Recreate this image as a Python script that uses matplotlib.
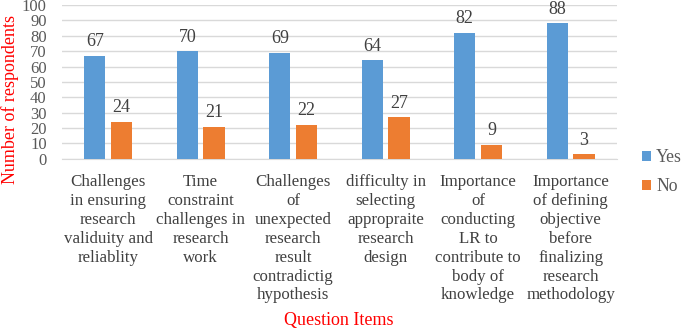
import numpy as np
import matplotlib
matplotlib.use("Agg")
import matplotlib.pyplot as plt

# ------------------------------------------
# Data
# ------------------------------------------
categories = [
    "Challenges\nin ensuring\nresearch\nvaliduity and\nreliablity",
    "Time\nconstraint\nchallenges in\nresearch\nwork",
    "Challenges\nof\nunexpected\nresearch\nresult\ncontradictig\nhypothesis",
    "difficulty in\nselecting\nappropraite\nresearch\ndesign",
    "Importance\nof\nconducting\nLR to\ncontribute to\nbody of\nknowledge",
    "Importance\nof defining\nobjective\nbefore\nfinalizing\nresearch\nmethodology",
]
yes_values = [67, 70, 69, 64, 82, 88]
no_values = [24, 21, 22, 27, 9, 3]

plt.rcParams["font.family"] = ["Liberation Serif", "DejaVu Serif"]

fig = plt.figure(figsize=(6.85, 3.31), dpi=100)
ax = fig.add_axes([0.0905, 0.52, 0.81, 0.465])

x = np.arange(len(categories))
w = 0.23
off = 0.145

b1 = ax.bar(x - off, yes_values, w, color="#5B9BD5", label="Yes", zorder=3)
b2 = ax.bar(x + off, no_values, w, color="#ED7D31", label="No", zorder=3)

# value labels above bars
for bars in (b1, b2):
    for bar in bars:
        h = bar.get_height()
        ax.annotate(str(int(h)), (bar.get_x() + bar.get_width() / 2, h),
                    xytext=(0, 4), textcoords="offset points",
                    ha="center", va="bottom", fontsize=13, color="#404040")

ax.set_xlim(-0.5, len(categories) - 0.5)
ax.set_ylim(0, 100)
ax.set_yticks(range(0, 101, 10))
ax.set_xticks(x)
ax.set_xticklabels(categories, fontsize=12.2, color="#404040", linespacing=1.24)
ax.tick_params(axis="y", length=0, labelsize=12, colors="#595959", pad=11)
ax.tick_params(axis="x", length=0, pad=11, colors="#404040")
ax.yaxis.grid(True, color="#D9D9D9", linewidth=1, zorder=0)
for s in ["top", "right", "left"]:
    ax.spines[s].set_visible(False)
ax.spines["bottom"].set_color("#D9D9D9")

fig.text(0.015, 0.70, "Number of respondents", rotation=90, color="red",
         fontsize=13, ha="center", va="center")
fig.text(0.495, 0.033, "Question Items", color="red", fontsize=13,
         ha="center", va="center")

fig.legend(handles=[b1, b2], loc="center left", bbox_to_anchor=(0.937, 0.48),
           frameon=False, fontsize=12.8, handlelength=0.5, handleheight=0.5,
           handletextpad=0.3, labelspacing=0.65, borderpad=0, borderaxespad=0,
           labelcolor="#595959")

fig.savefig("out.png", dpi=100)
